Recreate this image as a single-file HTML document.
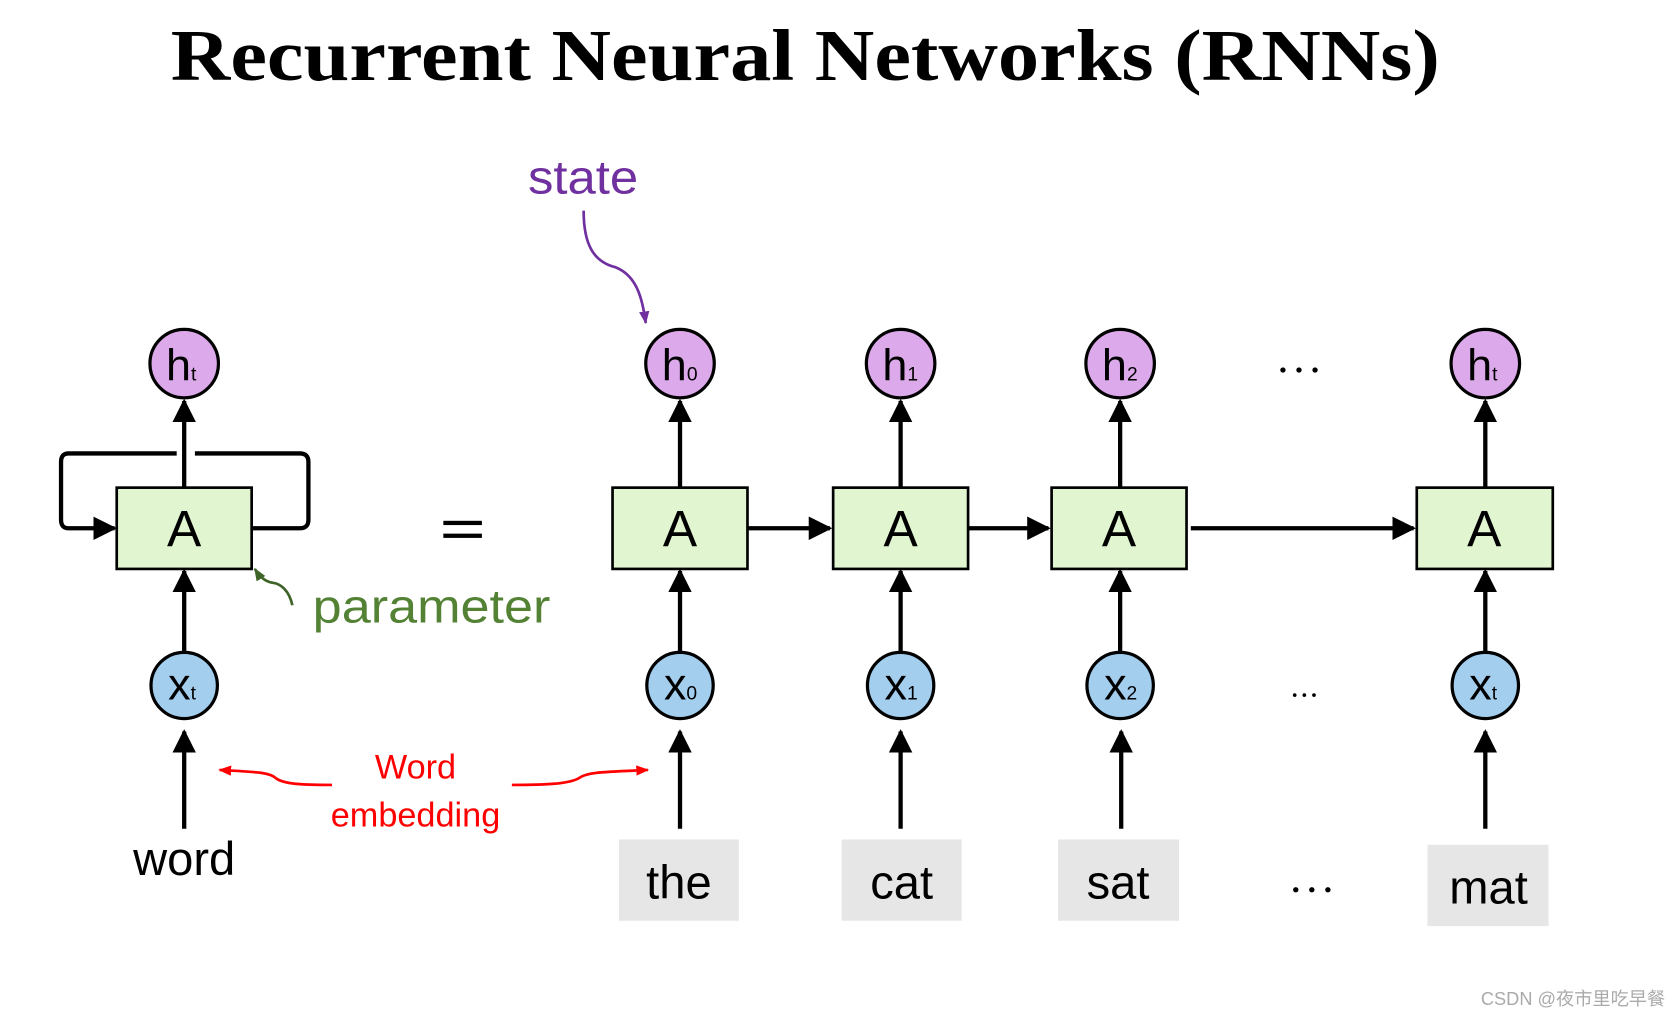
<!DOCTYPE html>
<html><head><meta charset="utf-8"><style>
html,body{margin:0;padding:0;background:#fff;width:1677px;height:1017px;overflow:hidden}
svg{display:block}
.s{font-family:"Liberation Sans","DejaVu Sans",sans-serif}
</style></head><body>
<svg width="1677" height="1017" viewBox="0 0 1566 951" preserveAspectRatio="none" xmlns="http://www.w3.org/2000/svg">
<defs>
<marker id="a" viewBox="0 0 10 10" refX="9" refY="5" markerWidth="22" markerHeight="22" orient="auto" markerUnits="userSpaceOnUse"><path d="M0,0 L10,5 L0,10 z" fill="#000"/></marker>
<marker id="ap" viewBox="0 0 10 10" refX="9" refY="5" markerWidth="12" markerHeight="12" orient="auto" markerUnits="userSpaceOnUse"><path d="M0,1 L10,5 L0,9 z" fill="#7030a0"/></marker>
<marker id="ag" viewBox="0 0 10 10" refX="9" refY="5" markerWidth="12" markerHeight="12" orient="auto" markerUnits="userSpaceOnUse"><path d="M0,1 L10,5 L0,9 z" fill="#3f6428"/></marker>
<marker id="ar" viewBox="0 0 10 10" refX="9" refY="5" markerWidth="12" markerHeight="12" orient="auto" markerUnits="userSpaceOnUse"><path d="M0,1 L10,5 L0,9 z" fill="#f00"/></marker>
</defs>
<text x="752" y="75" text-anchor="middle" font-family="Liberation Serif,serif" font-weight="bold" font-size="68" textLength="1185" lengthAdjust="spacingAndGlyphs">Recurrent Neural Networks (RNNs)</text>
<text class="s" x="493" y="181" font-size="44" fill="#7030a0" textLength="103" lengthAdjust="spacingAndGlyphs">state</text>
<path d="M545,197 C545,230 555,245 575,250 C595,258 600,280 603,302" fill="none" stroke="#7030a0" stroke-width="2.5" marker-end="url(#ap)"/>

<g stroke="#000" stroke-width="4" fill="none">
<path d="M235,494 H280 Q288,494 288,486 V432 Q288,424 280,424 H182"/>
<path d="M165,424 H64 Q57,424 57,432 V486 Q57,494 64,494 H107" marker-end="url(#a)"/>
<g marker-end="url(#a)">
<line x1="172" y1="456" x2="172" y2="375"/><line x1="635" y1="456" x2="635" y2="375"/><line x1="841" y1="456" x2="841" y2="375"/><line x1="1046" y1="456" x2="1046" y2="375"/><line x1="1387" y1="456" x2="1387" y2="375"/>
<line x1="172" y1="610" x2="172" y2="534"/><line x1="635" y1="610" x2="635" y2="534"/><line x1="841" y1="610" x2="841" y2="534"/><line x1="1046" y1="610" x2="1046" y2="534"/><line x1="1387" y1="610" x2="1387" y2="534"/>
<line x1="172" y1="775" x2="172" y2="684"/><line x1="635" y1="775" x2="635" y2="684"/><line x1="841" y1="775" x2="841" y2="684"/><line x1="1047" y1="775" x2="1047" y2="684"/><line x1="1387" y1="775" x2="1387" y2="684"/>
<line x1="698" y1="494" x2="775" y2="494"/><line x1="904" y1="494" x2="979" y2="494"/><line x1="1112" y1="494" x2="1320" y2="494"/>
</g>
</g>
<g fill="#e1f6d0" stroke="#000" stroke-width="2.5">
<rect x="109" y="456" width="126" height="76"/><rect x="572" y="456" width="126" height="76"/><rect x="778" y="456" width="126" height="76"/><rect x="982" y="456" width="126" height="76"/><rect x="1323" y="456" width="127" height="76"/>
</g>
<g class="s" font-size="48" text-anchor="middle">
<text x="172" y="511">A</text><text x="635" y="511">A</text><text x="841" y="511">A</text><text x="1045" y="511">A</text><text x="1386" y="511">A</text>
</g>
<g fill="#dcaaea" stroke="#000" stroke-width="3">
<circle cx="172" cy="340" r="32"/><circle cx="635" cy="340" r="32"/><circle cx="841" cy="340" r="32"/><circle cx="1046" cy="340" r="32"/><circle cx="1387" cy="340" r="32"/>
</g>
<g fill="#a3ceee" stroke="#000" stroke-width="3">
<circle cx="172" cy="641" r="31"/><circle cx="635" cy="641" r="31"/><circle cx="841" cy="641" r="31"/><circle cx="1046" cy="641" r="31"/><circle cx="1387" cy="641" r="31"/>
</g>
<g class="s" font-size="42">
<text x="155" y="356">h<tspan font-size="18">t</tspan></text>
<text x="618" y="356">h<tspan font-size="18">0</tspan></text>
<text x="824" y="356">h<tspan font-size="18">1</tspan></text>
<text x="1029" y="356">h<tspan font-size="18">2</tspan></text>
<text x="1370" y="356">h<tspan font-size="18">t</tspan></text>
<text x="157" y="654">x<tspan font-size="18">t</tspan></text>
<text x="620" y="654">x<tspan font-size="18">0</tspan></text>
<text x="826" y="654">x<tspan font-size="18">1</tspan></text>
<text x="1031" y="654">x<tspan font-size="18">2</tspan></text>
<text x="1372" y="654">x<tspan font-size="18">t</tspan></text>
</g>
<g fill="#000"><circle cx="1198" cy="346" r="2.5"/><circle cx="1213" cy="346" r="2.5"/><circle cx="1228" cy="346" r="2.5"/>
<circle cx="1209" cy="650" r="1.7"/><circle cx="1218" cy="650" r="1.7"/><circle cx="1227" cy="650" r="1.7"/>
<circle cx="1210" cy="832" r="2.5"/><circle cx="1225" cy="832" r="2.5"/><circle cx="1240" cy="832" r="2.5"/></g>
<rect x="414" y="487" width="36" height="4"/><rect x="414" y="499" width="36" height="4"/>
<text class="s" x="292" y="582" font-size="44" fill="#548235" textLength="222" lengthAdjust="spacingAndGlyphs">parameter</text>
<path d="M273,566 C270,552 262,546 255,545 C248,544 243,540 238,532" fill="none" stroke="#3f6428" stroke-width="2.5" marker-end="url(#ag)"/>
<text class="s" x="388" y="728" font-size="32" fill="#f00" text-anchor="middle">Word</text>
<text class="s" x="388" y="773" font-size="32" fill="#f00" text-anchor="middle">embedding</text>
<path d="M310,734 C280,734 265,733 258,728 C252,722 240,722 205,720" fill="none" stroke="#f00" stroke-width="2.5" marker-end="url(#ar)"/>
<path d="M478,734 C510,734 530,733 540,728 C548,722 560,722 605,720" fill="none" stroke="#f00" stroke-width="2.5" marker-end="url(#ar)"/>
<text class="s" x="172" y="818" font-size="44" text-anchor="middle">word</text>
<g fill="#e6e6e6"><rect x="578" y="785" width="112" height="76"/><rect x="786" y="785" width="112" height="76"/><rect x="988" y="785" width="113" height="76"/><rect x="1333" y="790" width="113" height="76"/></g>
<g class="s" font-size="44" text-anchor="middle">
<text x="634" y="840">the</text><text x="842" y="840">cat</text><text x="1044" y="840">sat</text><text x="1390" y="845">mat</text>
</g>
<text x="1555" y="940" font-size="17" fill="#aaa" text-anchor="end" font-family="Liberation Sans,Noto Sans CJK SC,sans-serif">CSDN @夜市里吃早餐</text>
</svg>
</body></html>
